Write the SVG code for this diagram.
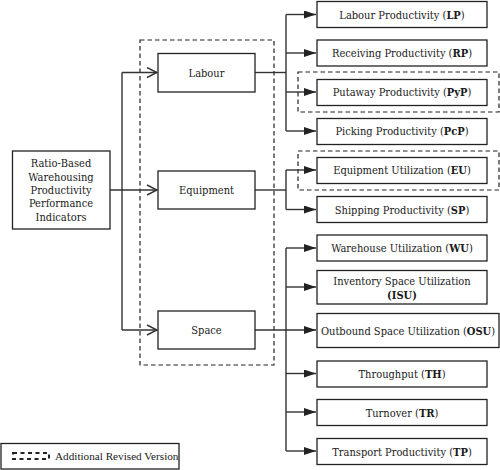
<svg xmlns="http://www.w3.org/2000/svg" width="500" height="470" viewBox="0 0 500 470">
<defs>
<style>
.box{fill:#fff;stroke:#222;stroke-width:1.3}
.dash{fill:none;stroke:#222;stroke-width:1.2;stroke-dasharray:4.5,3}
.ln{fill:none;stroke:#333;stroke-width:1.4}
.t{font-family:'DejaVu Serif',serif;font-stretch:condensed;font-size:11px;fill:#1a1a1a;text-anchor:middle}
.b{font-weight:bold}
.lg{font-family:'Liberation Serif',serif;font-size:11.2px;fill:#1a1a1a}
</style>
<marker id="open" viewBox="0 0 12 12" refX="11" refY="6" markerWidth="12" markerHeight="12" markerUnits="userSpaceOnUse" orient="auto">
<path d="M1,1 L11,6 L1,11" fill="none" stroke="#333" stroke-width="1.4"/>
</marker>
<marker id="fill" viewBox="0 0 12 8" refX="12" refY="4" markerWidth="12" markerHeight="8" markerUnits="userSpaceOnUse" orient="auto">
<path d="M0,0 L12,4 L0,8 Z" fill="#222"/>
</marker>
</defs>
<rect width="500" height="470" fill="#fff"/>

<g id="revised-dashes">
<rect class="dash" x="140" y="40" width="134" height="325"/>
<rect class="dash" x="298" y="72" width="201" height="40"/>
<rect class="dash" x="298" y="151" width="201" height="39"/>
</g>

<g id="connectors">
<path class="ln" d="M110,190 H157" marker-end="url(#open)"/>
<path class="ln" d="M122,72.5 H157" marker-end="url(#open)"/>
<path class="ln" d="M122,330 H157" marker-end="url(#open)"/>
<path class="ln" d="M122,72.5 V330"/>
<path class="ln" d="M255,72.5 H286"/>
<path class="ln" d="M286,14.5 V131"/>
<path class="ln" d="M286,14.5 H316" marker-end="url(#fill)"/>
<path class="ln" d="M286,53 H316" marker-end="url(#fill)"/>
<path class="ln" d="M286,92 H316" marker-end="url(#fill)"/>
<path class="ln" d="M286,131 H316" marker-end="url(#fill)"/>
<path class="ln" d="M255,190 H286"/>
<path class="ln" d="M286,170 V209.5"/>
<path class="ln" d="M286,170 H316" marker-end="url(#fill)"/>
<path class="ln" d="M286,209.5 H316" marker-end="url(#fill)"/>
<path class="ln" d="M286,248 V451"/>
<path class="ln" d="M286,248 H316" marker-end="url(#fill)"/>
<path class="ln" d="M286,287 H316" marker-end="url(#fill)"/>
<path class="ln" d="M255,330 H316" marker-end="url(#fill)"/>
<path class="ln" d="M286,373.5 H316" marker-end="url(#fill)"/>
<path class="ln" d="M286,412 H316" marker-end="url(#fill)"/>
<path class="ln" d="M286,451 H316" marker-end="url(#fill)"/>
</g>

<g id="root">
<rect class="box" x="12.5" y="151" width="97.5" height="78"/>
<text class="t" x="61" y="167">Ratio-Based</text>
<text class="t" x="61" y="181">Warehousing</text>
<text class="t" x="61" y="194">Productivity</text>
<text class="t" x="61" y="207">Performance</text>
<text class="t" x="61" y="221">Indicators</text>
</g>

<g id="labour">
<rect class="box" x="158" y="53.5" width="97" height="38.5"/>
<text class="t" x="206.5" y="76.5">Labour</text>
</g>
<g id="equipment">
<rect class="box" x="158" y="171" width="97" height="38"/>
<text class="t" x="206.5" y="194">Equipment</text>
</g>
<g id="space">
<rect class="box" x="158" y="311" width="97" height="38"/>
<text class="t" x="206.5" y="334">Space</text>
</g>

<g id="lp">
<rect class="box" x="317" y="1.5" width="170" height="26"/>
<text class="t" x="402" y="18.5">Labour Productivity (<tspan class="b">LP</tspan>)</text>
</g>
<g id="rp">
<rect class="box" x="317" y="40" width="170" height="26"/>
<text class="t" x="402" y="57">Receiving Productivity (<tspan class="b">RP</tspan>)</text>
</g>
<g id="pyp">
<rect class="box" x="317" y="79.5" width="170" height="26"/>
<text class="t" x="402" y="96">Putaway Productivity (<tspan class="b">PyP</tspan>)</text>
</g>
<g id="pcp">
<rect class="box" x="317" y="118.5" width="170" height="26"/>
<text class="t" x="402" y="135">Picking Productivity (<tspan class="b">PcP</tspan>)</text>
</g>
<g id="eu">
<rect class="box" x="317" y="157.5" width="170" height="26"/>
<text class="t" x="402" y="174">Equipment Utilization (<tspan class="b">EU</tspan>)</text>
</g>
<g id="sp">
<rect class="box" x="317" y="196.5" width="170" height="26"/>
<text class="t" x="402" y="213.5">Shipping Productivity (<tspan class="b">SP</tspan>)</text>
</g>
<g id="wu">
<rect class="box" x="317" y="235" width="170" height="26"/>
<text class="t" x="402" y="252">Warehouse Utilization (<tspan class="b">WU</tspan>)</text>
</g>
<g id="isu">
<rect class="box" x="317" y="270.5" width="170" height="33.5"/>
<text class="t" x="402" y="285">Inventory Space Utilization</text>
<text class="t b" x="402" y="298.5">(ISU)</text>
</g>
<g id="osu">
<rect class="box" x="317" y="313.5" width="182" height="34"/>
<text class="t" x="408" y="334.5">Outbound Space Utilization (<tspan class="b">OSU</tspan>)</text>
</g>
<g id="th">
<rect class="box" x="317" y="361" width="170" height="26"/>
<text class="t" x="402" y="378">Throughput (<tspan class="b">TH</tspan>)</text>
</g>
<g id="tr">
<rect class="box" x="317" y="399.5" width="170" height="26"/>
<text class="t" x="402" y="416.5">Turnover (<tspan class="b">TR</tspan>)</text>
</g>
<g id="tp">
<rect class="box" x="317" y="438.5" width="170" height="26"/>
<text class="t" x="402" y="455.5">Transport Productivity (<tspan class="b">TP</tspan>)</text>
</g>

<g id="legend">
<rect class="box" x="1" y="443.5" width="178" height="25.5" stroke-width="1"/>
<rect x="13" y="453" width="36" height="6" fill="none" stroke="#222" stroke-width="2" stroke-dasharray="4,3.5"/>
<text class="lg" x="55" y="460">Additional Revised Version</text>
</g>
</svg>
